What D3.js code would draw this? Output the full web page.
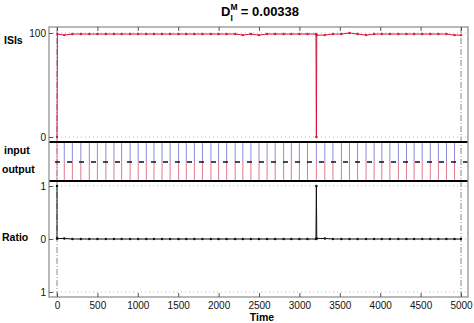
<!DOCTYPE html>
<html>
<head>
<meta charset="utf-8">
<script src="https://cdn.jsdelivr.net/npm/d3@7"></script>
<style>
  body { margin: 0; background: #fff; }
  text { font-family: "Liberation Sans", Arial, sans-serif; }
</style>
</head>
<body>
<div id="chart"></div>
<script>
var chart_width  = 474;
var chart_height = 323;

// spike times (input / output trains)
var input_spikes  = [90, 190, 295, 400, 500, 605, 705, 800, 905, 1005, 1105, 1200, 1300, 1400, 1505, 1600, 1700, 1800, 1905, 2000,
                     2100, 2205, 2300, 2400, 2500, 2600, 2700, 2805, 2900, 3000, 3100, 3210, 3315, 3415, 3520, 3620, 3720, 3825,
                     3925, 4020, 4120, 4225, 4325, 4420, 4520, 4620, 4720, 4820, 4920];
var output_spikes = [0, 90, 190, 295, 400, 500, 605, 705, 800, 905, 1005, 1105, 1200, 1300, 1400, 1505, 1600, 1700, 1800, 1905, 2000,
                     2100, 2205, 2300, 2400, 2500, 2600, 2700, 2805, 2900, 3000, 3100, 3210, 3315, 3415, 3520, 3620, 3720, 3825,
                     3925, 4020, 4120, 4225, 4325, 4420, 4520, 4620, 4720, 4820, 4920];

// ISI curve
var isi_times  = [0, 5, 90, 190, 295, 400, 500, 605, 705, 800, 905, 1005, 1105, 1200, 1300, 1400, 1505, 1600, 1700, 1800, 1905, 2000,
                  2100, 2205, 2300, 2400, 2500, 2600, 2700, 2805, 2900, 3000, 3100, 3205, 3210, 3215, 3315, 3415, 3520, 3620, 3720, 3825,
                  3925, 4020, 4120, 4225, 4325, 4420, 4520, 4620, 4720, 4820, 4920, 5000];
var isi_values = [0, 99, 98, 99, 99, 99, 99, 99, 99, 99, 99, 99, 99, 99, 99, 99, 99, 99, 99, 99, 99, 99,
                  99, 99, 98, 99, 98, 99, 99, 99, 99, 99, 99, 99, 0, 98, 98, 99, 99, 100, 99, 98,
                  99, 99, 99, 99, 99, 99, 99, 99, 99, 99, 98, 98];

// ratio curve
var ratio_times  = [0, 0, 5, 90, 190, 295, 400, 500, 605, 705, 800, 905, 1005, 1105, 1200, 1300, 1400, 1505, 1600, 1700, 1800, 1905, 2000,
                    2100, 2205, 2300, 2400, 2500, 2600, 2700, 2805, 2900, 3000, 3100, 3205, 3210, 3215, 3315, 3415, 3520, 3620, 3720, 3825,
                    3925, 4020, 4120, 4225, 4325, 4420, 4520, 4620, 4720, 4820, 4920, 5000];
var ratio_values = [1, 0.01, 0.01, 0.01, 0, 0, 0, 0, 0, 0, 0, 0, 0, 0, 0, 0, 0, 0, 0, 0, 0, 0, 0,
                    0, 0, 0, 0, 0, 0, 0, 0, 0, 0, 0, 0, 1, 0.01, 0.01, 0, 0, 0, 0, 0, 0,
                    0, 0, 0, 0, 0, 0, 0, 0, 0, 0, 0];

var x_ticks     = [0, 500, 1000, 1500, 2000, 2500, 3000, 3500, 4000, 4500, 5000];
var ratio_ticks = [-1, 0, 1];
var ratio_tick_labels = ['1', '0', '1'];
var title_value = '0.00338';

var frame = { left: 49, right: 468, top: 27, bottom: 297 };
var grey = '#9a9a9a';
var red  = '#d3163f';

var svg = d3.select('#chart')
            .append('svg')
            .attr('width', chart_width)
            .attr('height', chart_height);

// scales
var x_scale     = d3.scaleLinear().domain([0, 5000]).range([57, 461]);
var isi_scale   = d3.scaleLinear().domain([0, 100]).range([137, 33]);
var spk_scale   = d3.scaleLinear().domain([0, 1, 2]).range([181, 162, 142]);
var ratio_scale = d3.scaleLinear().domain([-1, 1]).range([292, 186]);

// dotted grid lines
var grid = [isi_scale(100), isi_scale(0), ratio_scale(1), ratio_scale(-1), ratio_scale(0)];
svg.selectAll('line.grid')
    .data(grid)
    .enter()
    .append('line')
    .attr('class', 'grid')
    .attr('x1', frame.left + 4)
    .attr('x2', frame.right)
    .attr('y1', (d) => d)
    .attr('y2', (d) => d)
    .attr('stroke', '#aaa')
    .attr('stroke-width', 0.8)
    .attr('stroke-dasharray', '1,3');

// dash-dot verticals at start / end
svg.selectAll('line.bound')
    .data([0, 5000])
    .enter()
    .append('line')
    .attr('x1', (d) => x_scale(d))
    .attr('x2', (d) => x_scale(d))
    .attr('y1', frame.top)
    .attr('y2', frame.bottom)
    .attr('stroke', '#888')
    .attr('stroke-width', 1)
    .attr('stroke-dasharray', '6,2,1,2');

// spike trains
svg.selectAll('line.inp')
    .data(input_spikes)
    .enter()
    .append('line')
    .attr('x1', (d) => x_scale(d))
    .attr('x2', (d) => x_scale(d))
    .attr('y1', spk_scale(2))
    .attr('y2', spk_scale(1))
    .attr('stroke', '#8c8cd8')
    .attr('stroke-width', 1);

svg.selectAll('line.out')
    .data(output_spikes)
    .enter()
    .append('line')
    .attr('x1', (d) => x_scale(d))
    .attr('x2', (d) => x_scale(d))
    .attr('y1', (d, i) => i === 0 ? spk_scale(2) : spk_scale(1))
    .attr('y2', spk_scale(0))
    .attr('stroke', '#e07a8c')
    .attr('stroke-width', 1);

// dashed middle line
svg.append('line')
    .attr('x1', frame.left)
    .attr('x2', frame.right)
    .attr('y1', spk_scale(1))
    .attr('y2', spk_scale(1))
    .attr('stroke', '#111')
    .attr('stroke-width', 1.6)
    .attr('stroke-dasharray', '5,7')
    .attr('stroke-dashoffset', -6);

// thick panel separators
svg.selectAll('line.sep')
    .data([2, 0])
    .enter()
    .append('line')
    .attr('x1', frame.left)
    .attr('x2', frame.right)
    .attr('y1', (d) => spk_scale(d))
    .attr('y2', (d) => spk_scale(d))
    .attr('stroke', '#000')
    .attr('stroke-width', 2.2);

// ISI curve
var isi_data = isi_times.map((t, i) => [t, isi_values[i]]);
svg.append('path')
    .datum(isi_data)
    .attr('d', d3.line().x((d) => x_scale(d[0])).y((d) => isi_scale(d[1])))
    .attr('fill', 'none')
    .attr('stroke', red)
    .attr('stroke-width', 1);
svg.selectAll('circle.isi')
    .data(isi_data)
    .enter()
    .append('circle')
    .attr('cx', (d) => x_scale(d[0]))
    .attr('cy', (d) => isi_scale(d[1]))
    .attr('r', 1.2)
    .attr('fill', red);

// ratio curve
var ratio_data = ratio_times.map((t, i) => [t, ratio_values[i]]);
svg.append('path')
    .datum(ratio_data)
    .attr('d', d3.line().x((d) => x_scale(d[0])).y((d) => ratio_scale(d[1])))
    .attr('fill', 'none')
    .attr('stroke', '#111')
    .attr('stroke-width', 1);
svg.selectAll('circle.ratio')
    .data(ratio_data)
    .enter()
    .append('circle')
    .attr('cx', (d) => x_scale(d[0]))
    .attr('cy', (d) => ratio_scale(d[1]))
    .attr('r', 1.2)
    .attr('fill', '#111');

// frame
svg.append('rect')
    .attr('x', frame.left)
    .attr('y', frame.top)
    .attr('width', frame.right - frame.left)
    .attr('height', frame.bottom - frame.top)
    .attr('fill', 'none')
    .attr('stroke', grey)
    .attr('stroke-width', 1.4);

// axes
function style_axis(g) {
    g.select('.domain').remove();
    g.selectAll('line').attr('stroke', '#555');
    g.selectAll('text').attr('font-size', 10).attr('fill', '#111');
}

svg.append('g')
    .attr('transform', 'translate(0,' + frame.bottom + ')')
    .call(d3.axisBottom(x_scale).tickValues(x_ticks).tickFormat(d3.format('d'))
            .tickSizeInner(-4).tickSizeOuter(0).tickPadding(5))
    .call(style_axis);

svg.append('g')
    .attr('transform', 'translate(0,' + frame.top + ')')
    .call(d3.axisTop(x_scale).tickValues(x_ticks).tickSizeInner(-4).tickSizeOuter(0).tickFormat(''))
    .call(style_axis);

svg.append('g')
    .attr('transform', 'translate(' + frame.left + ',0)')
    .call(d3.axisLeft(isi_scale).tickValues([0, 100]).tickSizeInner(-4).tickSizeOuter(0).tickPadding(3))
    .call(style_axis);

svg.append('g')
    .attr('transform', 'translate(' + frame.left + ',0)')
    .call(d3.axisLeft(ratio_scale).tickValues(ratio_ticks)
            .tickFormat((d, i) => ratio_tick_labels[i])
            .tickSizeInner(-4).tickSizeOuter(0).tickPadding(3))
    .call(style_axis);

// labels
var labels = [
    { text: 'ISIs',   x: 4, y: 44 },
    { text: 'input',  x: 4, y: 154 },
    { text: 'output', x: 2, y: 173 },
    { text: 'Ratio',  x: 2, y: 241 }
];
svg.selectAll('text.lab')
    .data(labels)
    .enter()
    .append('text')
    .attr('x', (d) => d.x)
    .attr('y', (d) => d.y)
    .attr('font-size', 10.5)
    .attr('font-weight', 'bold')
    .text((d) => d.text);

svg.append('text')
    .attr('x', x_scale(2500) + 3)
    .attr('y', 321)
    .attr('text-anchor', 'middle')
    .attr('font-size', 10.5)
    .attr('font-weight', 'bold')
    .text('Time');

// title D_I^M = value
var title = svg.append('text')
    .attr('x', 221)
    .attr('y', 16)
    .attr('font-size', 13)
    .attr('font-weight', 'bold');
title.append('tspan').text('D');
title.append('tspan').attr('dy', -6).attr('font-size', 8.5).text('M');
title.append('tspan').attr('dx', -7).attr('dy', 11).attr('font-size', 8.5).text('I');
title.append('tspan').attr('dx', 8).attr('dy', -5).text('= ' + title_value);
</script>
</body>
</html>
